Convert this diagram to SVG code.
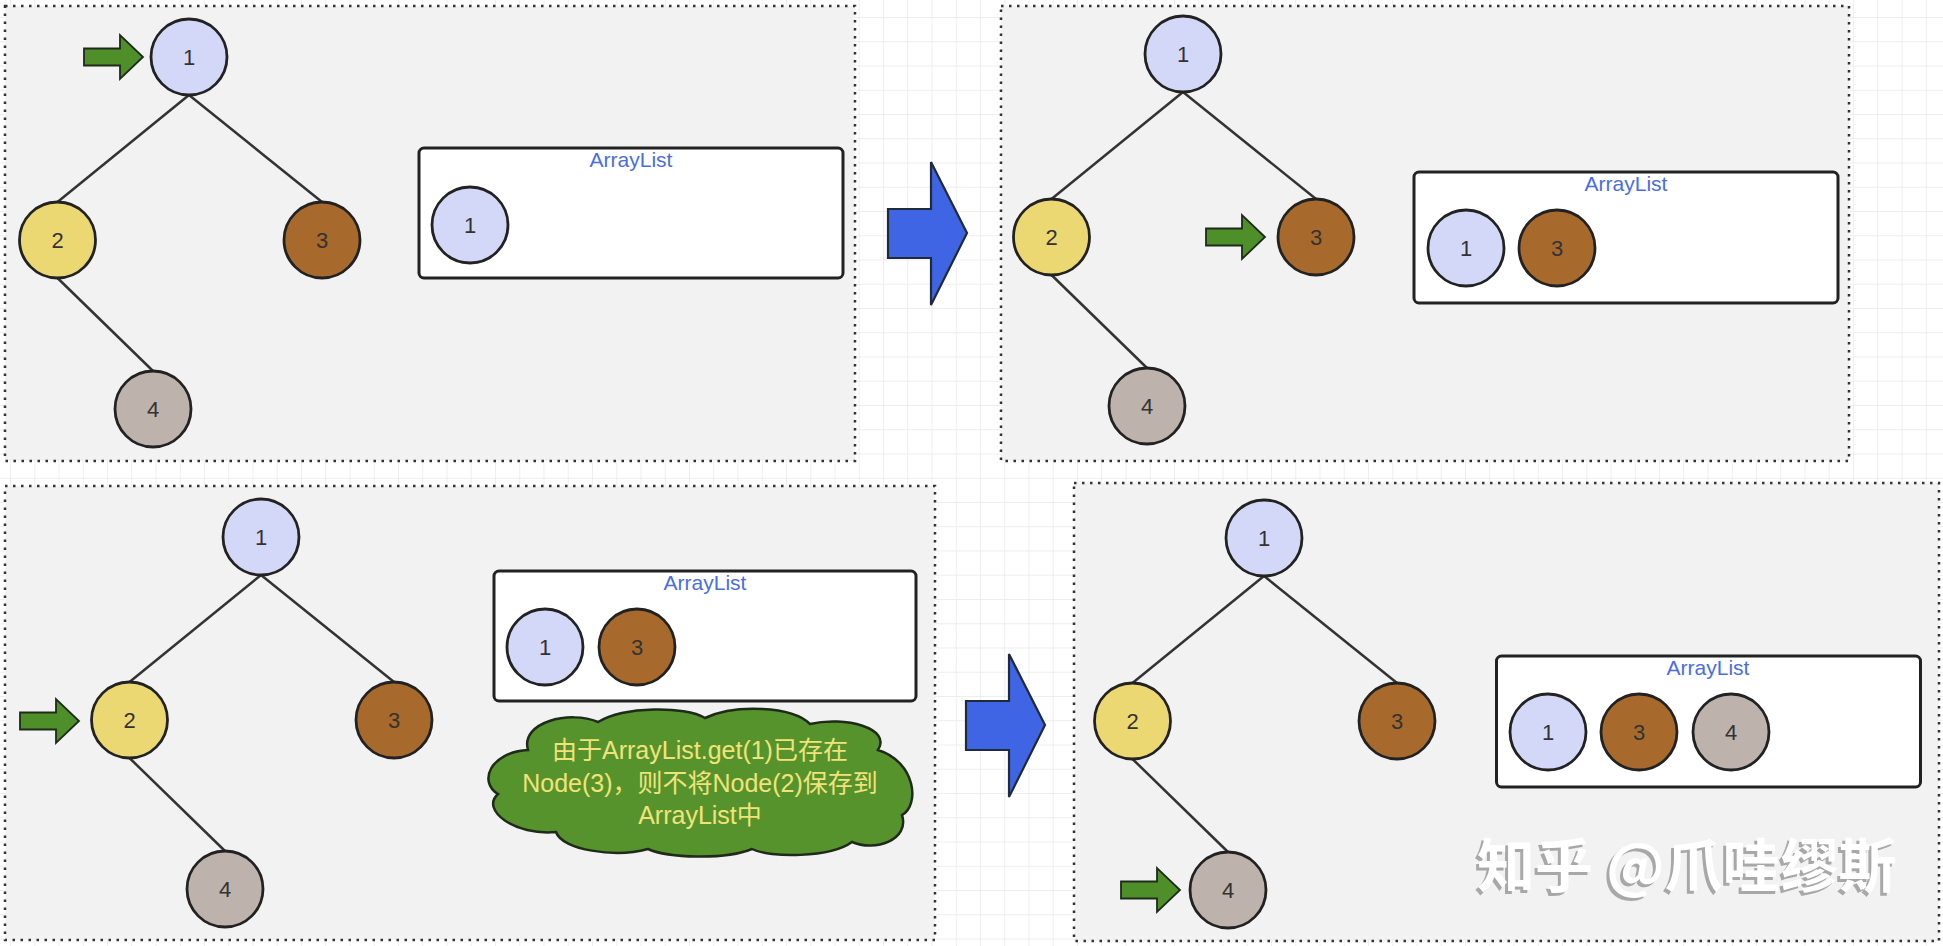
<svg xmlns="http://www.w3.org/2000/svg" xmlns:xlink="http://www.w3.org/1999/xlink" width="1943" height="946" viewBox="0 0 1943 946">
<style>
.panel{fill:#f2f2f2;stroke:#333;stroke-width:2.5;stroke-dasharray:2.5 5.5}
.edge{stroke:#333;stroke-width:2.5;fill:none}
.n{stroke:#222;stroke-width:2.8}
.n1{fill:#d4d8f8}.n2{fill:#ecd873}.n3{fill:#a8692c}.n4{fill:#bdb2ac}
.lbl{font-family:"Liberation Sans","Noto Sans",Arial,sans-serif;font-size:22px;fill:#333;text-anchor:middle}
.box{fill:#fff;stroke:#222;stroke-width:3}
.title{font-family:"Liberation Sans","Noto Sans",Arial,sans-serif;font-size:21px;fill:#4a6ee0;text-anchor:middle}
.garrow{fill:#4e8f2a;stroke:#1e2a1a;stroke-width:1.8;stroke-linejoin:miter}
.barrow{fill:#3f64e4;stroke:#1f2a3a;stroke-width:2.2;stroke-linejoin:miter}
.cloud{fill:#57932c;stroke:#1e2a1a;stroke-width:2.5}
.ctext{font-family:"Liberation Sans","Noto Sans CJK SC",sans-serif;font-size:25px;fill:#f1e37a;text-anchor:middle}
.wm{font-family:"Noto Sans CJK SC",sans-serif;font-size:58px;font-weight:700}
</style>
<defs>
<pattern id="grid" x="10" y="17" width="24.25" height="24.25" patternUnits="userSpaceOnUse">
<path d="M0,0 V24.25 M0,0 H24.25" stroke="#e9e9e9" stroke-width="1.5" fill="none"/>
</pattern>
<path id="ga" d="M-59,-8.5 H-23 V-22 L0,0 L-23,22 V8.5 H-59 Z"/>
<path id="ba" d="M-79,-24 H-36 V-71 L0,0 L-36,72 V25 H-79 Z"/>
</defs>
<rect width="1943" height="946" fill="#fff"/>
<rect width="1943" height="946" fill="url(#grid)"/>

<g id="panels">
<rect id="panel1" class="panel" x="5" y="6" width="850" height="455"/>
<rect id="panel2" class="panel" x="1001" y="6" width="848" height="455"/>
<rect id="panel3" class="panel" x="5" y="486" width="930" height="454"/>
<rect id="panel4" class="panel" x="1074" y="483" width="865" height="458"/>
</g>

<g id="connectors">
<line class="edge" x1="189" y1="95" x2="57.5" y2="202"/>
<line class="edge" x1="189" y1="95" x2="322" y2="202"/>
<line class="edge" x1="57.5" y1="278" x2="153" y2="371"/>
<line class="edge" x1="1183" y1="92" x2="1051.5" y2="199"/>
<line class="edge" x1="1183" y1="92" x2="1316" y2="199"/>
<line class="edge" x1="1051.5" y1="275" x2="1147" y2="368"/>
<line class="edge" x1="261" y1="575" x2="129.5" y2="682"/>
<line class="edge" x1="261" y1="575" x2="394" y2="682"/>
<line class="edge" x1="129.5" y1="758" x2="225" y2="851"/>
<line class="edge" x1="1264" y1="576" x2="1132.5" y2="683"/>
<line class="edge" x1="1264" y1="576" x2="1397" y2="683"/>
<line class="edge" x1="1132.5" y1="759" x2="1228" y2="852"/>
</g>

<g id="p1-n1"><circle class="n n1" cx="189" cy="57" r="38"/><text class="lbl" x="189" y="65">1</text></g>
<g id="p1-n2"><circle class="n n2" cx="57.5" cy="240" r="38"/><text class="lbl" x="57.5" y="248">2</text></g>
<g id="p1-n3"><circle class="n n3" cx="322" cy="240" r="38"/><text class="lbl" x="322" y="248">3</text></g>
<g id="p1-n4"><circle class="n n4" cx="153" cy="409" r="38"/><text class="lbl" x="153" y="417">4</text></g>

<g id="p2-n1"><circle class="n n1" cx="1183" cy="54" r="38"/><text class="lbl" x="1183" y="62">1</text></g>
<g id="p2-n2"><circle class="n n2" cx="1051.5" cy="237" r="38"/><text class="lbl" x="1051.5" y="245">2</text></g>
<g id="p2-n3"><circle class="n n3" cx="1316" cy="237" r="38"/><text class="lbl" x="1316" y="245">3</text></g>
<g id="p2-n4"><circle class="n n4" cx="1147" cy="406" r="38"/><text class="lbl" x="1147" y="414">4</text></g>

<g id="p3-n1"><circle class="n n1" cx="261" cy="537" r="38"/><text class="lbl" x="261" y="545">1</text></g>
<g id="p3-n2"><circle class="n n2" cx="129.5" cy="720" r="38"/><text class="lbl" x="129.5" y="728">2</text></g>
<g id="p3-n3"><circle class="n n3" cx="394" cy="720" r="38"/><text class="lbl" x="394" y="728">3</text></g>
<g id="p3-n4"><circle class="n n4" cx="225" cy="889" r="38"/><text class="lbl" x="225" y="897">4</text></g>

<g id="p4-n1"><circle class="n n1" cx="1264" cy="538" r="38"/><text class="lbl" x="1264" y="546">1</text></g>
<g id="p4-n2"><circle class="n n2" cx="1132.5" cy="721" r="38"/><text class="lbl" x="1132.5" y="729">2</text></g>
<g id="p4-n3"><circle class="n n3" cx="1397" cy="721" r="38"/><text class="lbl" x="1397" y="729">3</text></g>
<g id="p4-n4"><circle class="n n4" cx="1228" cy="890" r="38"/><text class="lbl" x="1228" y="898">4</text></g>

<g id="pointers">
<use href="#ga" class="garrow" transform="translate(143,57)"/>
<use href="#ga" class="garrow" transform="translate(1265,237)"/>
<use href="#ga" class="garrow" transform="translate(79,721)"/>
<use href="#ga" class="garrow" transform="translate(1180,890)"/>
</g>

<g id="step-arrows">
<use href="#ba" class="barrow" transform="translate(967,233)"/>
<use href="#ba" class="barrow" transform="translate(1045,725)"/>
</g>

<g id="list1">
<rect class="box" x="419" y="148" width="424" height="130" rx="5"/>
<text class="title" x="631" y="167">ArrayList</text>
<g id="list1-n1"><circle class="n n1" cx="470" cy="225" r="38"/><text class="lbl" x="470" y="233">1</text></g>
</g>

<g id="list2">
<rect class="box" x="1414" y="172" width="424" height="131" rx="5"/>
<text class="title" x="1626" y="191">ArrayList</text>
<g id="list2-n1"><circle class="n n1" cx="1466" cy="248" r="38"/><text class="lbl" x="1466" y="256">1</text></g>
<g id="list2-n3"><circle class="n n3" cx="1557" cy="248" r="38"/><text class="lbl" x="1557" y="256">3</text></g>
</g>

<g id="list3">
<rect class="box" x="494" y="571" width="422" height="130" rx="5"/>
<text class="title" x="705" y="590">ArrayList</text>
<g id="list3-n1"><circle class="n n1" cx="545" cy="647" r="38"/><text class="lbl" x="545" y="655">1</text></g>
<g id="list3-n3"><circle class="n n3" cx="637" cy="647" r="38"/><text class="lbl" x="637" y="655">3</text></g>
</g>

<g id="list4">
<rect class="box" x="1496.5" y="656" width="424" height="131" rx="5"/>
<text class="title" x="1708" y="675">ArrayList</text>
<g id="list4-n1"><circle class="n n1" cx="1548" cy="732" r="38"/><text class="lbl" x="1548" y="740">1</text></g>
<g id="list4-n3"><circle class="n n3" cx="1639" cy="732" r="38"/><text class="lbl" x="1639" y="740">3</text></g>
<g id="list4-n4"><circle class="n n4" cx="1731" cy="732" r="38"/><text class="lbl" x="1731" y="740">4</text></g>
</g>

<g id="note">
<path class="cloud" d="M528,750 C520,722 570,710 598,722 C625,706 685,706 705,718 C735,704 792,706 810,724 C845,716 892,728 878,750 C916,762 920,805 902,815 C910,840 875,852 852,842 C830,858 770,858 752,849 C725,860 668,858 648,849 C615,858 562,850 556,832 C515,836 480,810 498,794 C478,782 490,752 528,750 Z"/>
<text class="ctext" x="700" y="759">由于ArrayList.get(1)已存在</text>
<text class="ctext" x="700" y="792">Node(3)，则不将Node(2)保存到</text>
<text class="ctext" x="700" y="824">ArrayList中</text>
</g>

<g id="watermark">
<text class="wm" x="1474" y="890" fill="#a8a8a8">知乎 @爪哇缪斯</text>
<text class="wm" x="1477" y="887" fill="#ffffff">知乎 @爪哇缪斯</text>
</g>
</svg>
